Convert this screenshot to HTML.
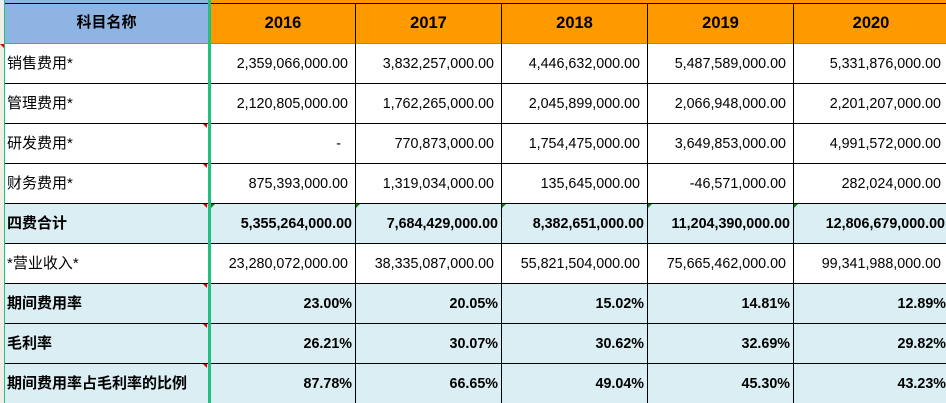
<!DOCTYPE html>
<html><head><meta charset="utf-8">
<style>
*{margin:0;padding:0;box-sizing:border-box}
html,body{width:946px;height:403px;overflow:hidden;background:#fff}
body{position:relative;font-family:"Liberation Sans","Noto Sans CJK SC",sans-serif;color:#000}
.a{position:absolute}
.hl{position:absolute;left:5px;width:941px;height:1px;background:#000}
.vl{position:absolute;top:3px;width:1px;height:400px;background:#000}
.c{position:absolute;height:40px;line-height:40px;font-size:14.3px;white-space:nowrap;text-align:right}
.b{font-weight:bold}
.lab{position:absolute;left:7px;height:40px;line-height:40px;font-size:15px;white-space:nowrap}
.rt{position:absolute;width:0;height:0;border-top:4px solid #e00000;border-left:4px solid transparent}
.gt{position:absolute;width:0;height:0;border-top:4px solid #108010;border-right:4px solid transparent}
.h{position:absolute;top:3px;height:40px;line-height:40px;font-weight:bold;text-align:center;font-size:16.5px}
</style></head><body>
<div class="a" style="left:0;top:0;width:4px;height:403px;background:#efefe6"></div>
<div class="a" style="left:4px;top:0;width:1px;height:403px;background:#20c080"></div>
<div class="a" style="left:5px;top:0;width:203px;height:43px;background:#8db4e2"></div>
<div class="a" style="left:211px;top:0;width:735px;height:43px;background:#ff9900"></div>
<div class="a" style="left:5px;top:204px;width:941px;height:39px;background:#daeef3"></div>
<div class="a" style="left:5px;top:284px;width:941px;height:119px;background:#daeef3"></div>
<div class="hl" style="top:3px"></div>
<div class="a" style="left:5px;top:43px;width:941px;height:1px;background:#20c080"></div>
<div class="hl" style="top:83px"></div>
<div class="hl" style="top:123px"></div>
<div class="hl" style="top:163px"></div>
<div class="hl" style="top:203px"></div>
<div class="hl" style="top:243px"></div>
<div class="hl" style="top:283px"></div>
<div class="hl" style="top:323px"></div>
<div class="hl" style="top:363px"></div>
<div class="vl" style="left:355px"></div>
<div class="vl" style="left:501px"></div>
<div class="vl" style="left:647px"></div>
<div class="vl" style="left:793px"></div>
<div class="a" style="left:208px;top:0;width:3px;height:403px;background:#20c080"></div>
<div class="h" style="left:5px;width:203px;font-size:15px">科目名称</div>
<div class="h" style="left:211px;width:144px">2016</div>
<div class="h" style="left:356px;width:145px">2017</div>
<div class="h" style="left:502px;width:145px">2018</div>
<div class="h" style="left:648px;width:145px">2019</div>
<div class="h" style="left:794px;width:154px">2020</div>
<div class="lab" style="top:44px">销售费用*</div>
<div class="lab" style="top:84px">管理费用*</div>
<div class="lab" style="top:124px">研发费用*</div>
<div class="lab" style="top:164px">财务费用*</div>
<div class="lab b" style="top:204px">四费合计</div>
<div class="lab" style="top:244px">*营业收入*</div>
<div class="lab b" style="top:284px">期间费用率</div>
<div class="lab b" style="top:324px">毛利率</div>
<div class="lab b" style="top:364px">期间费用率占毛利率的比例</div>

<div class="c" style="right:598px;top:44px">2,359,066,000.00</div>
<div class="c" style="right:598px;top:84px">2,120,805,000.00</div>
<div class="c" style="right:605px;top:124px">-</div>
<div class="c" style="right:598px;top:164px">875,393,000.00</div>
<div class="c b" style="right:594px;top:204px">5,355,264,000.00</div>
<div class="c" style="right:598px;top:244px">23,280,072,000.00</div>
<div class="c b" style="right:594px;top:284px">23.00%</div>
<div class="c b" style="right:594px;top:324px">26.21%</div>
<div class="c b" style="right:594px;top:364px">87.78%</div>

<div class="c" style="right:452px;top:44px">3,832,257,000.00</div>
<div class="c" style="right:452px;top:84px">1,762,265,000.00</div>
<div class="c" style="right:452px;top:124px">770,873,000.00</div>
<div class="c" style="right:452px;top:164px">1,319,034,000.00</div>
<div class="c b" style="right:448px;top:204px">7,684,429,000.00</div>
<div class="c" style="right:452px;top:244px">38,335,087,000.00</div>
<div class="c b" style="right:448px;top:284px">20.05%</div>
<div class="c b" style="right:448px;top:324px">30.07%</div>
<div class="c b" style="right:448px;top:364px">66.65%</div>

<div class="c" style="right:306px;top:44px">4,446,632,000.00</div>
<div class="c" style="right:306px;top:84px">2,045,899,000.00</div>
<div class="c" style="right:306px;top:124px">1,754,475,000.00</div>
<div class="c" style="right:306px;top:164px">135,645,000.00</div>
<div class="c b" style="right:302px;top:204px">8,382,651,000.00</div>
<div class="c" style="right:306px;top:244px">55,821,504,000.00</div>
<div class="c b" style="right:302px;top:284px">15.02%</div>
<div class="c b" style="right:302px;top:324px">30.62%</div>
<div class="c b" style="right:302px;top:364px">49.04%</div>

<div class="c" style="right:160px;top:44px">5,487,589,000.00</div>
<div class="c" style="right:160px;top:84px">2,066,948,000.00</div>
<div class="c" style="right:160px;top:124px">3,649,853,000.00</div>
<div class="c" style="right:160px;top:164px">-46,571,000.00</div>
<div class="c b" style="right:156px;top:204px">11,204,390,000.00</div>
<div class="c" style="right:160px;top:244px">75,665,462,000.00</div>
<div class="c b" style="right:156px;top:284px">14.81%</div>
<div class="c b" style="right:156px;top:324px">32.69%</div>
<div class="c b" style="right:156px;top:364px">45.30%</div>

<div class="c" style="right:5px;top:44px">5,331,876,000.00</div>
<div class="c" style="right:5px;top:84px">2,201,207,000.00</div>
<div class="c" style="right:5px;top:124px">4,991,572,000.00</div>
<div class="c" style="right:5px;top:164px">282,024,000.00</div>
<div class="c b" style="right:1px;top:204px">12,806,679,000.00</div>
<div class="c" style="right:5px;top:244px">99,341,988,000.00</div>
<div class="c b" style="right:0px;top:284px">12.89%</div>
<div class="c b" style="right:0px;top:324px">29.82%</div>
<div class="c b" style="right:0px;top:364px">43.23%</div>

<div class="rt" style="left:0px;top:44px"></div>
<div class="rt" style="left:203px;top:124px"></div>
<div class="rt" style="left:203px;top:164px"></div>
<div class="rt" style="left:203px;top:204px"></div>
<div class="rt" style="left:203px;top:284px"></div>
<div class="rt" style="left:203px;top:324px"></div>
<div class="rt" style="left:203px;top:364px"></div>
<div class="gt" style="left:211px;top:204px"></div>
<div class="gt" style="left:356px;top:204px"></div>
<div class="gt" style="left:502px;top:204px"></div>
<div class="gt" style="left:648px;top:204px"></div>
<div class="gt" style="left:794px;top:204px"></div>
</body></html>
